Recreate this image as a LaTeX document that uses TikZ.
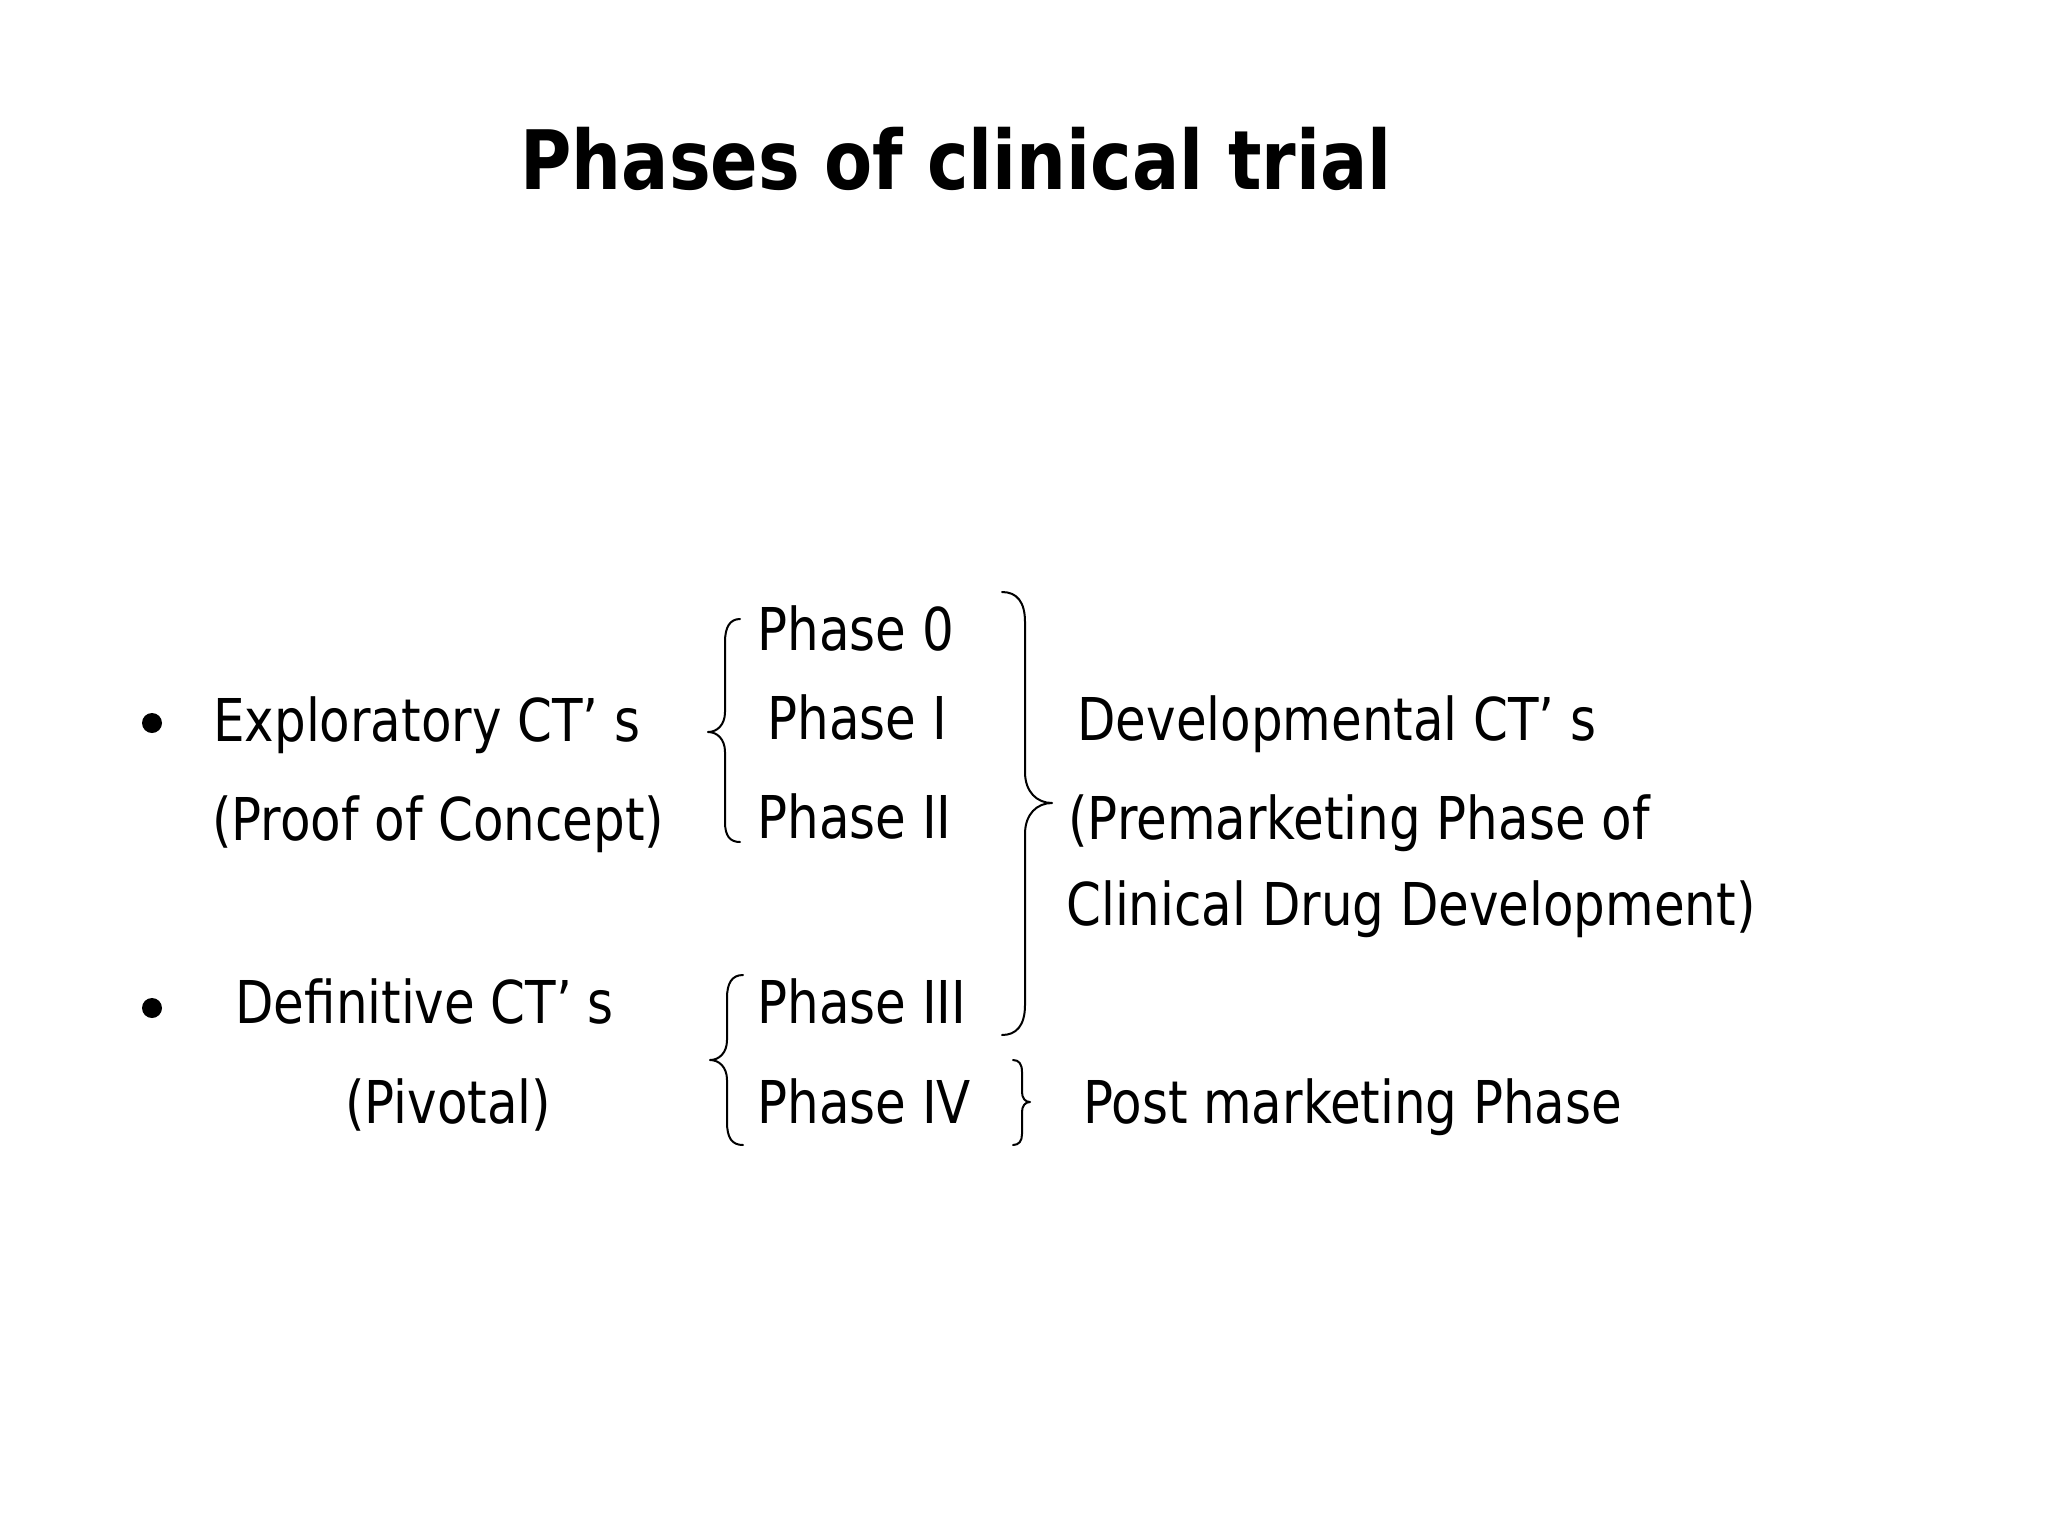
\documentclass[tikz,border=0pt]{standalone}
\usepackage{fontspec}
\setmainfont[FakeStretch=0.94]{DejaVu Sans Condensed}
\newfontfamily\titlefont[FakeStretch=0.95]{DejaVu Sans Condensed}
\begin{document}
\begin{tikzpicture}[x=0.5pt,y=-0.5pt,
  txt/.style={anchor=base west,inner sep=0pt,font=\fontsize{29.5}{35}\selectfont},
  ttl/.style={anchor=base,inner sep=0pt,font=\titlefont\fontsize{41}{48}\selectfont\bfseries},
  brace/.style={line width=1pt,line cap=round,line join=round},
  dot/.style={circle,fill=black,inner sep=0pt,minimum size=10pt}]
\useasboundingbox (0,0) rectangle (2048,1536);
\fill[white] (0,0) rectangle (2048,1536);
\node[ttl] (title) at (956,189) {Phases of clinical trial};
% bullets
\node[dot] (b1) at (152,723) {};
\node[dot] (b2) at (152,1008) {};
% left column
\node[txt] (expl) at (213,741) {Exploratory CT’ s};
\node[txt] (proof) at (212,840) {(Proof of Concept)};
\node[txt] (defi) at (235,1023) {Definitive CT’ s};
\node[txt] (piv) at (345,1123) {(Pivotal)};
% phases
\node[txt] (p0) at (757,650) {Phase 0};
\node[txt] (p1) at (767,739) {Phase I};
\node[txt] (p2) at (757,838) {Phase II};
\node[txt] (p3) at (757,1023) {Phase III};
\node[txt] (p4) at (757,1123) {Phase IV};
% right column
\node[txt] (dev) at (1077,740) {Developmental CT’ s};
\node[txt] (prem) at (1068,839) {(Premarketing Phase of};
\node[txt] (clin) at (1066,925) {Clinical Drug Development)};
\node[txt] (post) at (1083,1123) {Post marketing Phase};
% left brace 1 (opening)
\draw[brace] (740,619) .. controls (730,619) and (725,627) .. (725,642) -- (725,712) .. controls (725,725) and (717,732) .. (708,732) .. controls (717,732) and (725,739) .. (725,752) -- (725,822) .. controls (725,836) and (730,842) .. (740,842);
% left brace 2 (opening)
\draw[brace] (743,975) .. controls (732,975) and (727,983) .. (727,998) -- (727,1040) .. controls (727,1053) and (719,1060) .. (710,1060) .. controls (719,1060) and (727,1067) .. (727,1080) -- (727,1122) .. controls (727,1138) and (732,1145) .. (743,1145);
% right big brace (closing)
\draw[brace] (1002,592) .. controls (1017,592) and (1025,602) .. (1025,622) -- (1025,772) .. controls (1025,792) and (1037,803) .. (1052,803) .. controls (1037,803) and (1025,814) .. (1025,834) -- (1025,1005) .. controls (1025,1026) and (1016,1035) .. (1002,1035);
% right small brace (closing)
\draw[brace] (1013,1060) .. controls (1019,1060) and (1022,1064) .. (1022,1072) -- (1022,1092) .. controls (1022,1098) and (1025,1102) .. (1030,1102) .. controls (1025,1102) and (1022,1106) .. (1022,1112) -- (1022,1134) .. controls (1022,1141) and (1019,1145) .. (1013,1145);
\end{tikzpicture}
\end{document}
